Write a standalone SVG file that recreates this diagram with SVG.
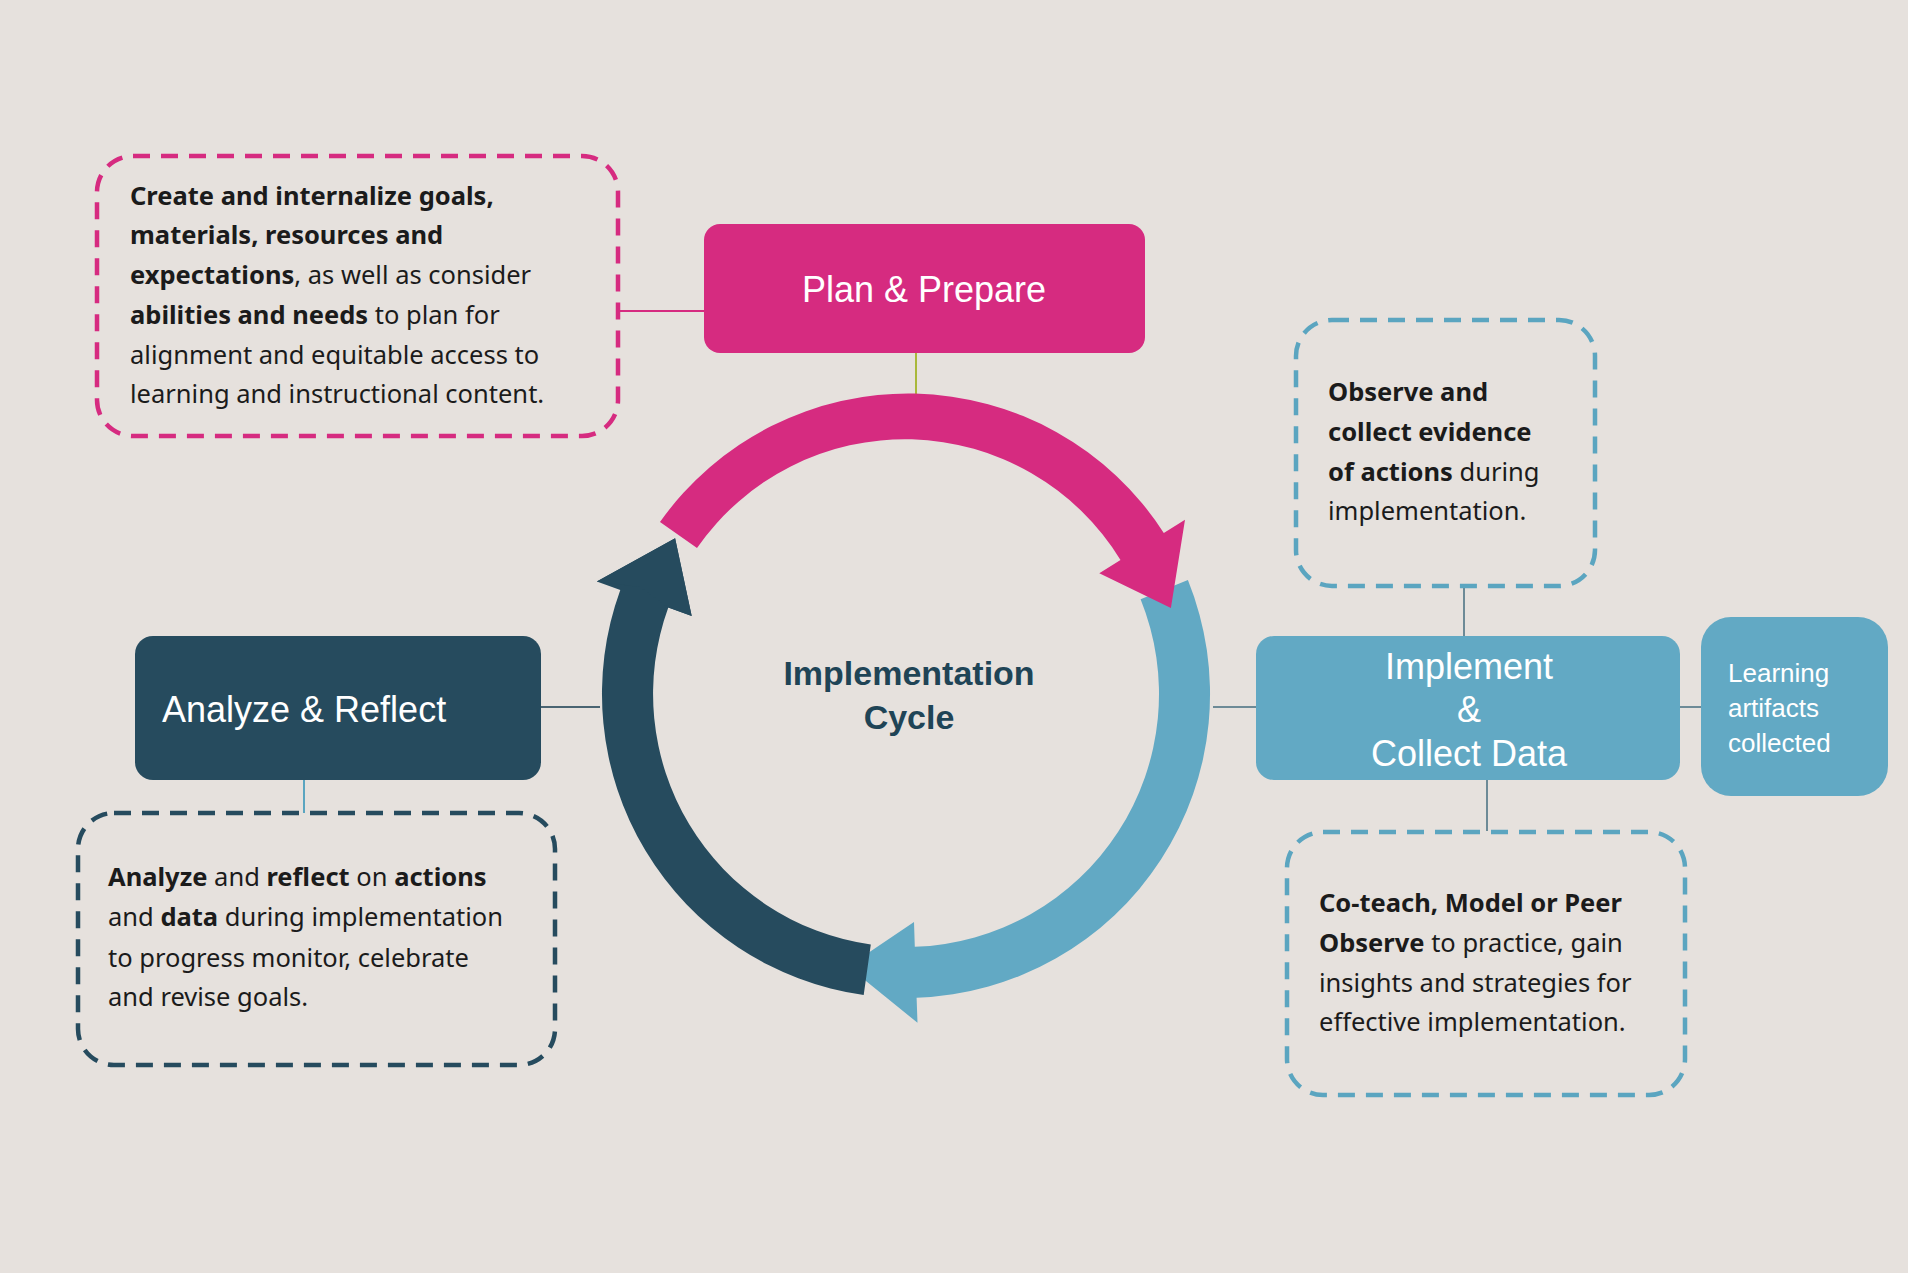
<svg xmlns="http://www.w3.org/2000/svg" width="1908" height="1273" viewBox="0 0 1908 1273">
<style>
.t{font-family:"Noto Sans","Open Sans",sans-serif;font-size:25.5px;fill:#1b1b1b}
.b{font-weight:bold}
.w{font-family:"Liberation Sans",Arial,sans-serif;fill:#fff;font-size:36px}
.d{fill:none;stroke-width:4.5;stroke-dasharray:17 11}
.c{stroke-width:2;fill:none}
</style>
<rect width="1908" height="1273" fill="#E6E1DD"/>
<g id="connectors">
<line class="c" x1="617" y1="311" x2="704" y2="311" stroke="#D62B80"/>
<line class="c" x1="916" y1="353" x2="916" y2="408" stroke="#A9B83A"/>
<line class="c" x1="1464" y1="586" x2="1464" y2="636" stroke="#6d8a96"/>
<line class="c" x1="1213" y1="707" x2="1256" y2="707" stroke="#6d8a96"/>
<line class="c" x1="1680" y1="707" x2="1701" y2="707" stroke="#6d8a96"/>
<line class="c" x1="1487" y1="780" x2="1487" y2="831" stroke="#6d8a96"/>
<line class="c" x1="541" y1="707" x2="600" y2="707" stroke="#4a6472"/>
<line class="c" x1="304" y1="768" x2="304" y2="813" stroke="#5BA5C0"/>
</g>
<g id="cycle">
<path fill="#62A9C4" d="M1187.9,580.1 A304,304 0 0 1 916.6,997.8 L917.5,1022.8 L848.1,966.4 L914,921.9 L914.8,946.8 A253,253 0 0 0 1140.6,599.2 Z"/>
<path fill="#264B5E" d="M863.7,995 A304,304 0 0 1 620.3,590 L596.8,581.5 L675.1,538.3 L691.7,616 L668.3,607.5 A253,253 0 0 0 870.8,944.5 Z"/>
<path fill="#D62B80" d="M660,522 A304,304 0 0 1 1163.8,532.9 L1185,519.7 L1170.9,607.9 L1099.3,573.2 L1120.5,559.9 A253,253 0 0 0 697,548 Z"/>
<path fill="#264B5E" d="M640,587 L596.8,581.5 L675.1,538.3 L691.7,616 L668.3,607.5 Z"/>
<text x="909" y="685" text-anchor="middle" style="font-family:'Liberation Sans',Arial,sans-serif;font-size:34px;font-weight:bold;fill:#1F4456">Implementation</text>
<text x="909" y="729" text-anchor="middle" style="font-family:'Liberation Sans',Arial,sans-serif;font-size:34px;font-weight:bold;fill:#1F4456">Cycle</text>
</g>
<g id="plan">
<rect x="704" y="224" width="441" height="129" rx="16" fill="#D62B80"/>
<text class="w" x="924" y="302" text-anchor="middle">Plan &amp; Prepare</text>
</g>
<g id="plan-note">
<rect class="d" x="97" y="156" width="521" height="280" rx="36" stroke="#D62B80"/>
<text class="t" x="130" y="205"><tspan class="b">Create and internalize goals,</tspan></text>
<text class="t" x="130" y="244"><tspan class="b">materials, resources and</tspan></text>
<text class="t" x="130" y="284"><tspan class="b">expectations</tspan>, as well as consider</text>
<text class="t" x="130" y="324"><tspan class="b">abilities and needs</tspan> to plan for</text>
<text class="t" x="130" y="364">alignment and equitable access to</text>
<text class="t" x="130" y="403">learning and instructional content.</text>
</g>
<g id="observe-note">
<rect class="d" x="1296" y="320" width="299" height="266" rx="36" stroke="#5BA5C0"/>
<text class="t" x="1328" y="401"><tspan class="b">Observe and</tspan></text>
<text class="t" x="1328" y="441"><tspan class="b">collect evidence</tspan></text>
<text class="t" x="1328" y="481"><tspan class="b">of actions</tspan> during</text>
<text class="t" x="1328" y="520">implementation.</text>
</g>
<g id="implement">
<rect x="1256" y="636" width="424" height="144" rx="18" fill="#62A9C4"/>
<text class="w" x="1469" y="679" text-anchor="middle">Implement</text>
<text class="w" x="1469" y="722" text-anchor="middle">&amp;</text>
<text class="w" x="1469" y="766" text-anchor="middle">Collect Data</text>
</g>
<g id="artifacts">
<rect x="1701" y="617" width="187" height="179" rx="30" fill="#62A9C4"/>
<text class="w" x="1728" y="682" style="font-size:26px">Learning</text>
<text class="w" x="1728" y="717" style="font-size:26px">artifacts</text>
<text class="w" x="1728" y="752" style="font-size:26px">collected</text>
</g>
<g id="coteach-note">
<rect class="d" x="1287" y="832" width="398" height="263" rx="36" stroke="#5BA5C0"/>
<text class="t" x="1319" y="912"><tspan class="b">Co-teach, Model or Peer</tspan></text>
<text class="t" x="1319" y="952"><tspan class="b">Observe</tspan> to practice, gain</text>
<text class="t" x="1319" y="992">insights and strategies for</text>
<text class="t" x="1319" y="1031">effective implementation.</text>
</g>
<g id="analyze">
<rect x="135" y="636" width="406" height="144" rx="18" fill="#264B5E"/>
<text class="w" x="162" y="722">Analyze &amp; Reflect</text>
</g>
<g id="analyze-note">
<rect class="d" x="78" y="813" width="477" height="252" rx="36" stroke="#264B5E"/>
<text class="t" x="108" y="886"><tspan class="b">Analyze</tspan> and <tspan class="b">reflect</tspan> on <tspan class="b">actions</tspan></text>
<text class="t" x="108" y="926">and <tspan class="b">data</tspan> during implementation</text>
<text class="t" x="108" y="967">to progress monitor, celebrate</text>
<text class="t" x="108" y="1006">and revise goals.</text>
</g>
</svg>
